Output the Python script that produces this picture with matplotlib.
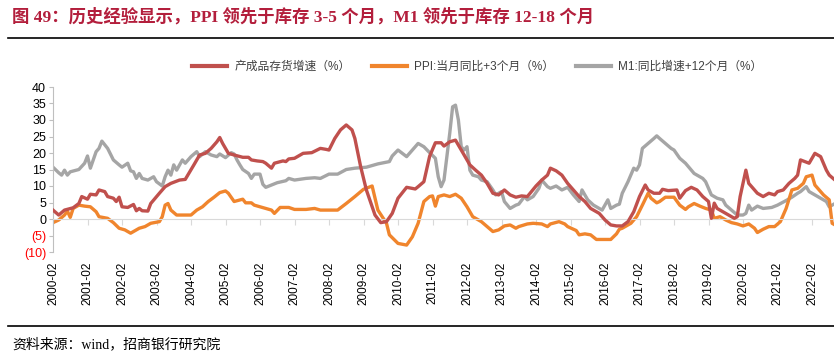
import matplotlib
matplotlib.use("Agg")
import matplotlib.pyplot as plt

# month index: 0 = 2000-02, 12 = 2001-02, ...
inv_month = [0, 2, 4, 7, 9, 10, 12, 13, 15, 16, 18, 19, 21, 22, 23, 24, 26, 28, 29, 30,
             31, 33, 34, 37, 39, 41, 44, 46, 49, 51, 53, 55, 57, 58, 59, 61, 63, 66, 68, 69,
             71, 73, 74, 76, 77, 80, 81, 82, 84, 87, 90, 93, 95, 96, 98, 100, 102, 104, 105, 107,
             109, 111, 112, 114, 116, 118, 120, 123, 126, 127, 129, 131, 133, 135, 136, 138, 140, 141, 143, 145,
             147, 149, 151, 153, 155, 157, 159, 161, 163, 165, 168, 170, 172, 173, 175, 177, 179, 182, 183, 185,
             187, 190, 192, 194, 196, 198, 200, 202, 204, 206, 207, 209, 211, 212, 214, 217, 218, 220, 222, 224,
             226, 228, 229, 230, 231, 233, 235, 237, 238, 239, 241, 242, 244, 245, 247, 249, 251, 252, 254, 256,
             258, 259, 260, 263, 265, 267, 269, 270, 272]
inv_val = [2.7, 1.2, 2.7, 3.4, 4.7, 6.8, 6.0, 7.5, 7.3, 8.8, 8.3, 6.8, 6.3, 5.3, 6.6, 3.7, 3.5, 4.4, 2.5, 3.2,
           2.5, 2.4, 4.7, 7.8, 9.8, 10.8, 11.8, 12.0, 16.4, 19.4, 19.9, 21.4, 23.4, 24.7, 22.9, 19.9, 19.4, 18.7, 18.7, 17.9,
           17.6, 17.4, 16.9, 15.4, 16.9, 17.6, 17.4, 18.2, 18.4, 19.9, 20.1, 21.4, 21.1, 20.9, 24.4, 27.0, 28.5, 27.0, 24.4, 15.9,
           8.8, 3.7, 1.2, -1.1, -0.8, 1.7, 6.3, 9.6, 9.1, 9.8, 11.3, 19.0, 23.1, 23.1, 22.1, 23.4, 23.9, 22.4, 19.4, 16.4,
           14.8, 13.3, 10.8, 7.8, 7.3, 8.8, 7.3, 6.6, 7.0, 6.8, 10.0, 11.8, 13.3, 15.4, 14.6, 13.3, 10.8, 7.8, 6.8, 5.3,
           3.2, 1.7, -0.3, -1.8, -2.1, -2.1, -0.8, 2.2, 6.8, 10.3, 8.8, 7.8, 7.8, 9.0, 8.6, 8.8, 6.3, 8.6, 9.6, 8.8,
           6.8, 5.3, 0.2, 4.8, 3.2, 2.2, 1.2, 0.2, 0.7, 6.8, 14.8, 10.8, 8.8, 7.8, 6.8, 7.8, 7.3, 8.3, 8.8, 10.8,
           12.3, 13.3, 17.9, 16.9, 19.9, 18.9, 14.8, 13.3, 11.8]

ppi_month = [0, 2, 4, 5, 6, 7, 9, 11, 13, 15, 16, 19, 21, 23, 25, 27, 30, 32, 34, 37,
             38, 39, 40, 41, 43, 46, 48, 50, 52, 54, 56, 58, 60, 61, 63, 66, 67, 69, 70, 72,
             74, 76, 77, 79, 82, 84, 88, 91, 93, 96, 99, 102, 105, 108, 111, 113, 116, 117, 120, 123,
             125, 127, 129, 131, 132, 133, 134, 136, 138, 140, 142, 144, 146, 149, 151, 153, 155, 157, 159, 161,
             162, 165, 167, 170, 172, 173, 176, 178, 179, 182, 183, 185, 187, 189, 194, 196, 197, 198, 201, 203,
             205, 207, 208, 210, 211, 213, 216, 218, 220, 221, 223, 225, 227, 229, 230, 232, 234, 236, 238, 240,
             242, 244, 245, 247, 249, 251, 253, 255, 257, 259, 261, 262, 264, 265, 267, 268, 270, 271, 272]
ppi_val = [-1.1, -0.3, 1.2, 2.4, 0.5, 3.2, 4.2, 3.9, 3.7, 2.2, 0.7, 0.2, -1.1, -2.8, -3.3, -4.3, -2.8, -2.3, -1.3, -0.8,
           0.7, 4.2, 4.7, 2.7, 1.2, 1.2, 1.2, 2.7, 3.7, 5.3, 6.6, 8.0, 8.5, 7.8, 5.3, 6.0, 4.9, 4.9, 4.2, 3.7,
           3.2, 2.7, 1.7, 3.5, 3.5, 2.9, 2.9, 3.2, 2.7, 2.7, 2.7, 4.7, 6.8, 9.0, 10.0, 2.7, -1.3, -4.8, -7.4, -7.9,
           -5.4, -1.3, 5.3, 6.8, 7.0, 3.9, 6.8, 7.3, 6.8, 7.5, 6.3, 3.7, 0.7, -0.8, -2.3, -3.8, -3.3, -2.1, -1.8, -2.8,
           -2.3, -1.5, -1.3, -1.5, -2.3, -1.5, -0.8, -1.5, -2.3, -3.5, -4.8, -4.5, -4.8, -6.2, -6.2, -4.5, -3.1, -2.8, -1.3, 0.7,
           4.2, 7.8, 6.3, 4.9, 5.3, 6.6, 6.6, 4.2, 2.9, 3.7, 4.7, 3.9, 3.2, 2.7, 0.2, 0.7, -0.3, -1.1, -1.5, -2.1,
           -1.5, -2.8, -4.1, -3.1, -2.3, -2.3, -0.8, 3.2, 8.8, 9.3, 10.8, 12.8, 13.3, 10.3, 8.3, 7.3, 5.8, -1.3, -1.8]

m1_month = [0, 2, 3, 4, 5, 6, 9, 11, 12, 13, 15, 16, 17, 19, 21, 23, 24, 26, 27, 28,
            29, 30, 31, 33, 35, 36, 38, 39, 40, 41, 42, 43, 45, 46, 48, 50, 51, 53, 55, 57,
            58, 60, 62, 63, 64, 65, 66, 68, 69, 70, 72, 73, 74, 76, 78, 81, 82, 84, 88, 91,
            93, 96, 99, 102, 105, 109, 113, 117, 118, 120, 123, 125, 127, 129, 131, 133, 134, 135, 136, 137,
            138, 139, 140, 141, 142, 143, 144, 145, 146, 148, 149, 151, 153, 154, 156, 157, 159, 161, 162, 164,
            165, 167, 169, 170, 172, 173, 175, 177, 179, 181, 183, 184, 186, 188, 190, 191, 193, 194, 196, 197,
            198, 200, 202, 203, 204, 205, 207, 209, 210, 211, 213, 215, 216, 218, 220, 222, 223, 226, 227, 229,
            231, 233, 234, 236, 238, 240, 241, 242, 243, 245, 247, 250, 252, 255, 257, 259, 260, 262, 263, 265,
            267, 269, 270, 272]
m1_val = [15.7, 14.0, 13.3, 14.8, 13.3, 14.3, 15.0, 16.9, 19.1, 15.4, 20.4, 21.4, 23.6, 21.4, 17.9, 16.4, 15.7, 16.9, 14.6, 14.3,
          12.3, 13.8, 12.3, 11.8, 12.8, 11.3, 10.0, 12.8, 14.8, 13.3, 16.4, 14.8, 17.9, 16.9, 18.9, 20.4, 18.9, 20.4, 19.4, 18.9,
          19.7, 18.6, 20.1, 19.7, 17.9, 16.4, 15.0, 13.8, 12.3, 13.6, 13.6, 10.5, 9.6, 10.3, 11.0, 11.6, 12.3, 11.8, 12.3, 12.5,
          12.3, 13.6, 13.6, 15.0, 15.4, 15.7, 16.7, 17.4, 19.1, 20.9, 18.9, 20.9, 22.9, 21.9, 20.1, 18.4, 12.8, 9.8, 11.8, 18.9,
          26.0, 34.0, 34.5, 30.0, 21.9, 20.9, 21.9, 14.8, 13.3, 12.8, 11.8, 11.3, 8.8, 7.3, 8.3, 5.3, 3.2, 4.2, 4.5, 6.8,
          5.8, 6.8, 9.3, 11.8, 9.8, 9.3, 10.0, 8.8, 9.6, 7.3, 5.3, 8.8, 5.8, 4.2, 3.2, 2.7, 5.8, 3.2, 4.2, 4.5,
          7.8, 11.3, 15.4, 14.8, 16.4, 21.4, 22.9, 24.4, 25.2, 24.4, 22.9, 21.4, 20.9, 18.4, 16.9, 14.8, 13.8, 12.3, 11.3, 7.3,
          6.3, 5.8, 4.2, 2.7, 1.2, 1.2, 1.7, 4.2, 2.7, 3.9, 3.2, 3.5, 4.2, 5.6, 6.6, 7.8, 8.3, 9.8, 8.3, 7.3,
          6.3, 5.3, 3.7, 4.7]

year_labels = ['%d-02' % y for y in range(2000, 2023)]
y_ticks = [-10, -5, 0, 5, 10, 15, 20, 25, 30, 35, 40]
labels = ['产成品存货增速（%）', 'PPI:当月同比+3个月（%）', 'M1:同比增速+12个月（%）']
title = '图 49：历史经验显示，PPI 领先于库存 3-5 个月，M1 领先于库存 12-18 个月'
source = '资料来源：wind，招商银行研究院'

sans = ['Liberation Sans', 'Noto Sans CJK SC']
serif = ['Liberation Serif', 'Noto Sans CJK SC']
plt.rcParams['font.family'] = sans

fig = plt.figure(figsize=(8.34, 3.57), dpi=100)
ax = fig.add_axes([53 / 834, 1 - 252 / 357, 1 - 53 / 834, 165 / 357])

lw = 2.4
ax.plot(inv_month, inv_val, color='#C0504D', lw=lw, label=labels[0], zorder=3)
ax.plot(ppi_month, ppi_val, color='#F0852D', lw=lw, label=labels[1], zorder=2)
ax.plot(m1_month, m1_val, color='#A5A5A5', lw=lw, label=labels[2], zorder=1)

ax.set_xlim(0, (834 - 53) / 2.875)
ax.set_ylim(-10, 40)

# y axis
ax.set_yticks(y_ticks)
ax.set_yticklabels(['(%d)' % -v if v < 0 else '%d' % v for v in y_ticks])
for t, v in zip(ax.get_yticklabels(), y_ticks):
    t.set_color('#FF0000' if v < 0 else 'black')
ax.tick_params(axis='y', length=3, width=0.8, color='#BFBFBF', labelsize=9, pad=2)
ax.spines['left'].set_color('#BFBFBF')
ax.spines['top'].set_visible(False)
ax.spines['right'].set_visible(False)

# x axis line at zero with year ticks, labels at bottom
ax.spines['bottom'].set_position(('data', 0))
ax.spines['bottom'].set_color('#D9D9D9')
ax.set_xticks(range(0, 12 * len(year_labels), 12))
ax.tick_params(axis='x', length=4, width=0.8, color='#D9D9D9', labelbottom=False)
sec = ax.secondary_xaxis('bottom')
sec.set_xticks(range(0, 12 * len(year_labels), 12))
sec.set_xticklabels(year_labels, rotation=90)
sec.tick_params(length=0, labelsize=8.5, pad=7)
sec.spines['bottom'].set_visible(False)

fig.legend(loc='center', bbox_to_anchor=(0.572, 1 - 67 / 357), ncol=3, frameon=False,
           handlelength=3.0, columnspacing=1.8, handletextpad=0.6,
           prop={'family': sans, 'size': 8.5})
for t in fig.legends[0].get_texts():
    t.set_color('#404040')
for h in fig.legends[0].get_lines():
    h.set_linewidth(3)

fig.text(12 / 834, 1 - 17 / 357, title, color='#B31E3C', fontsize=12.5, fontweight='bold',
         family=serif, va='center', ha='left')
fig.add_artist(plt.Line2D([8 / 834, 1], [1 - 38 / 357] * 2, color='black', lw=1.2))
fig.add_artist(plt.Line2D([8 / 834, 1], [1 - 326 / 357] * 2, color='black', lw=1.2))
fig.text(12 / 834, 1 - 344 / 357, source, color='black', fontsize=10, family=serif,
         va='center', ha='left')

fig.savefig('out.png', dpi=100)
